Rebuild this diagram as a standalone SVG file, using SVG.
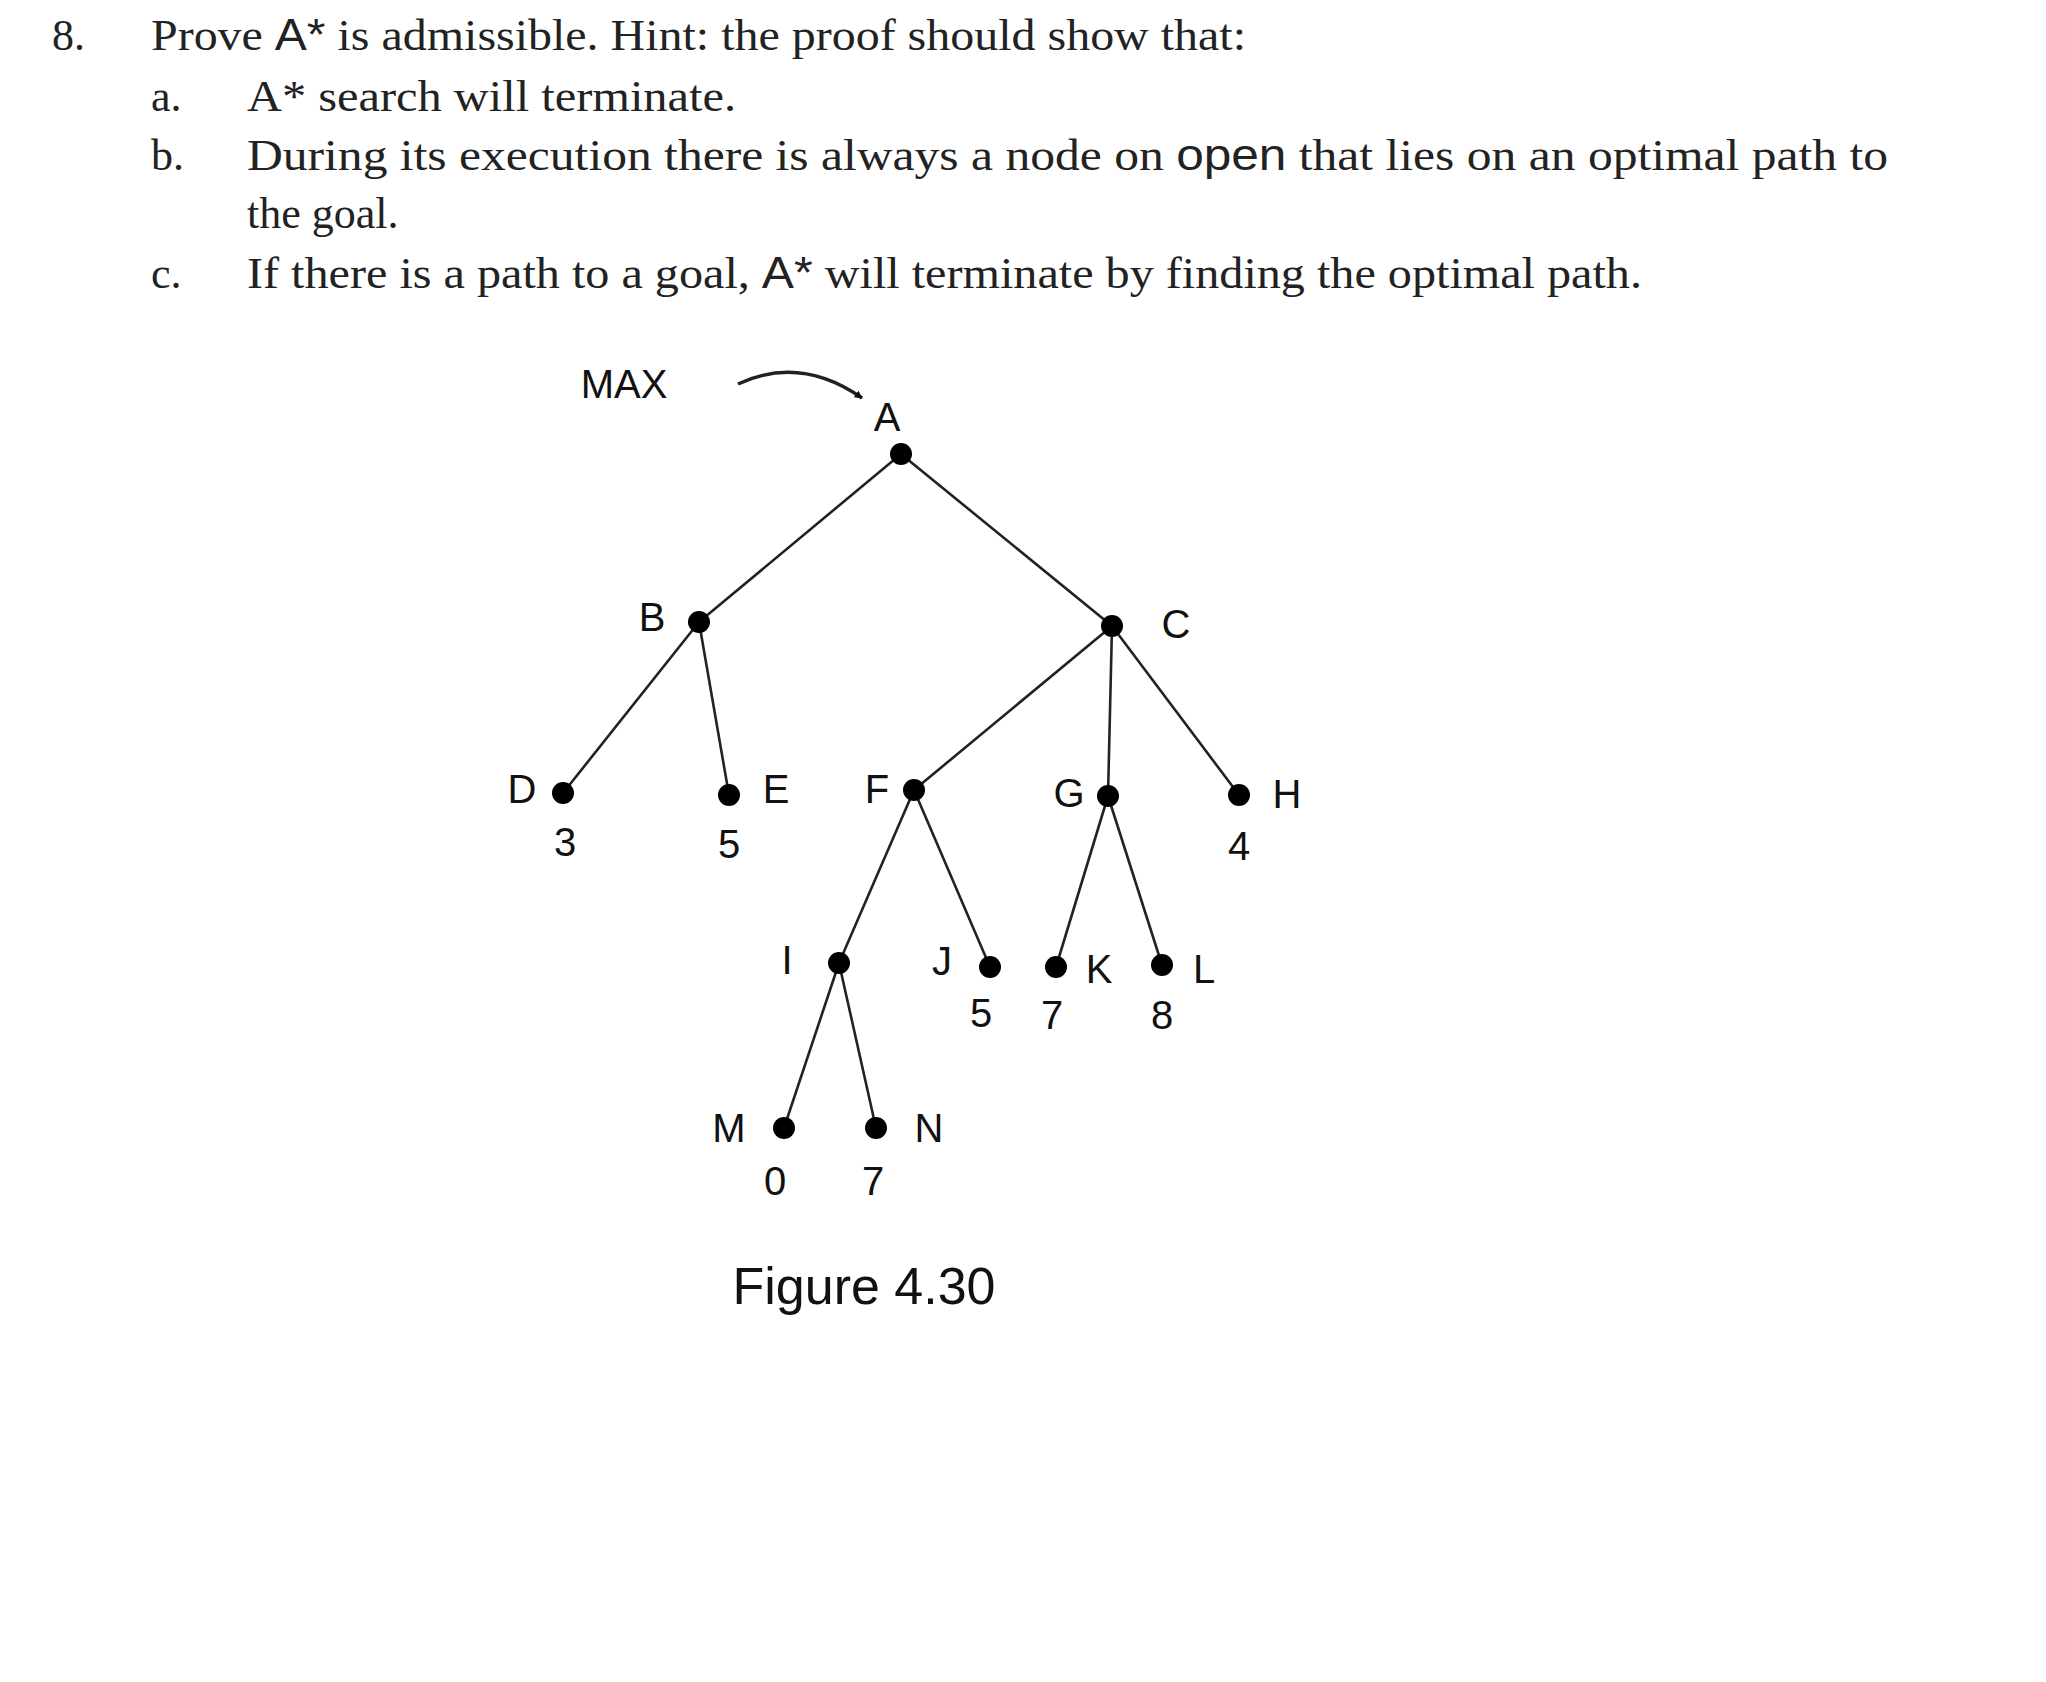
<svg xmlns="http://www.w3.org/2000/svg" width="2046" height="1682" viewBox="0 0 2046 1682">
<style>
.t{font-family:"Liberation Serif",serif;font-size:44px;fill:#222}
.s{font-family:"Liberation Sans",Arial,sans-serif}
.l{font-family:"Liberation Sans",Arial,sans-serif;font-size:40px;fill:#111}
.e{stroke:#222;stroke-width:2.6;fill:none}
.d{fill:#000}
</style>
<defs><marker id="ah" viewBox="0 0 10 10" refX="9" refY="5" markerWidth="8" markerHeight="8" orient="auto" markerUnits="userSpaceOnUse"><path d="M0,0 L10,5 L0,10 z" fill="#111"/></marker></defs>
<rect width="2046" height="1682" fill="#fff"/>
<g id="question">
<text class="t" x="52" y="50">8.</text>
<text class="t" x="151" y="50" textLength="1095" lengthAdjust="spacingAndGlyphs">Prove <tspan class="s">A*</tspan> is admissible. Hint: the proof should show that:</text>
<text class="t" x="151" y="111">a.</text>
<text class="t" x="247" y="111" textLength="489" lengthAdjust="spacingAndGlyphs">A* search will terminate.</text>
<text class="t" x="151" y="170">b.</text>
<text class="t" x="247" y="170" textLength="1641" lengthAdjust="spacingAndGlyphs">During its execution there is always a node on <tspan class="s">open</tspan> that lies on an optimal path to</text>
<text class="t" x="247" y="228">the goal.</text>
<text class="t" x="151" y="288">c.</text>
<text class="t" x="247" y="288" textLength="1395" lengthAdjust="spacingAndGlyphs">If there is a path to a goal, <tspan class="s">A*</tspan> will terminate by finding the optimal path.</text>
</g>
<g id="connectors">
<path class="e" d="M738,384 Q800,355 862,398" stroke-width="3.5" marker-end="url(#ah)" style="stroke-width:3.5"/>
<path class="e" d="M901,454 L699,622 M901,454 L1112,626 M699,622 L563,793 M699,622 L729,795 M1112,626 L914,790 M1112,626 L1108,796 M1112,626 L1239,795 M914,790 L839,963 M914,790 L990,967 M1108,796 L1056,967 M1108,796 L1162,965 M839,963 L784,1128 M839,963 L876,1128"/>
</g>
<g id="max"><text class="l" x="624" y="398" text-anchor="middle">MAX</text></g>
<g id="A"><circle class="d" cx="901" cy="454" r="11"/><text class="l" x="887" y="431" text-anchor="middle">A</text></g>
<g id="B"><circle class="d" cx="699" cy="622" r="11"/><text class="l" x="652" y="631" text-anchor="middle">B</text></g>
<g id="C"><circle class="d" cx="1112" cy="626" r="11"/><text class="l" x="1176" y="638" text-anchor="middle">C</text></g>
<g id="D"><circle class="d" cx="563" cy="793" r="11"/><text class="l" x="522" y="803" text-anchor="middle">D</text><text class="l" x="565" y="856" text-anchor="middle">3</text></g>
<g id="E"><circle class="d" cx="729" cy="795" r="11"/><text class="l" x="776" y="803" text-anchor="middle">E</text><text class="l" x="729" y="858" text-anchor="middle">5</text></g>
<g id="F"><circle class="d" cx="914" cy="790" r="11"/><text class="l" x="877" y="803" text-anchor="middle">F</text></g>
<g id="G"><circle class="d" cx="1108" cy="796" r="11"/><text class="l" x="1069" y="807" text-anchor="middle">G</text></g>
<g id="H"><circle class="d" cx="1239" cy="795" r="11"/><text class="l" x="1287" y="808" text-anchor="middle">H</text><text class="l" x="1239" y="860" text-anchor="middle">4</text></g>
<g id="I"><circle class="d" cx="839" cy="963" r="11"/><text class="l" x="787" y="974" text-anchor="middle">I</text></g>
<g id="J"><circle class="d" cx="990" cy="967" r="11"/><text class="l" x="942" y="975" text-anchor="middle">J</text><text class="l" x="981" y="1027" text-anchor="middle">5</text></g>
<g id="K"><circle class="d" cx="1056" cy="967" r="11"/><text class="l" x="1099" y="983" text-anchor="middle">K</text><text class="l" x="1052" y="1029" text-anchor="middle">7</text></g>
<g id="L"><circle class="d" cx="1162" cy="965" r="11"/><text class="l" x="1204" y="983" text-anchor="middle">L</text><text class="l" x="1162" y="1029" text-anchor="middle">8</text></g>
<g id="M"><circle class="d" cx="784" cy="1128" r="11"/><text class="l" x="729" y="1142" text-anchor="middle">M</text><text class="l" x="775" y="1195" text-anchor="middle">0</text></g>
<g id="N"><circle class="d" cx="876" cy="1128" r="11"/><text class="l" x="929" y="1142" text-anchor="middle">N</text><text class="l" x="873" y="1195" text-anchor="middle">7</text></g>
<g id="caption"><text class="l" x="864" y="1304" text-anchor="middle" style="font-size:52px">Figure 4.30</text></g>
</svg>
